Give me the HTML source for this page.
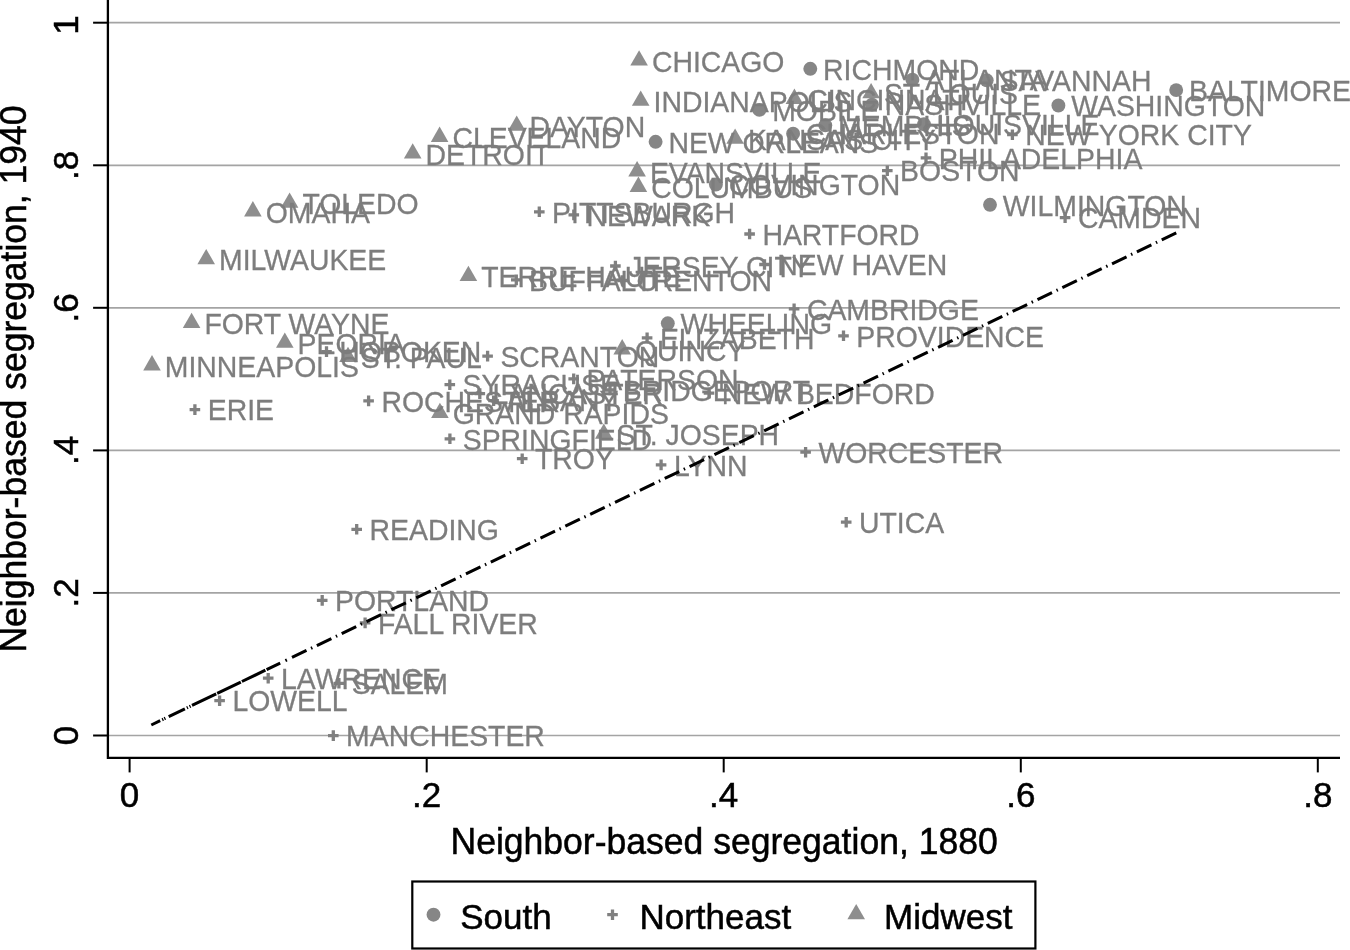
<!DOCTYPE html>
<html><head><meta charset="utf-8"><title>Neighbor-based segregation</title>
<style>
html,body{margin:0;padding:0;background:#fff;}
body{width:1350px;height:950px;overflow:hidden;}
svg{display:block;font-family:"Liberation Sans",Arial,Helvetica,sans-serif;}
.lab{font-size:28.4px;fill:#7d7d7d;stroke:#7d7d7d;stroke-width:0.28px;}
.ax{font-size:35.55px;fill:#000;stroke:#000;stroke-width:0.5px;}
.tk{font-size:35px;}
</style></head><body>
<svg width="1350" height="950" viewBox="0 0 1350 950">
<rect width="1350" height="950" fill="#fff"/>

<g stroke="#a4a4a4" stroke-width="1.7">
<line x1="107" x2="1340" y1="735.5" y2="735.5"/>
<line x1="107" x2="1340" y1="592.9" y2="592.9"/>
<line x1="107" x2="1340" y1="450.4" y2="450.4"/>
<line x1="107" x2="1340" y1="307.8" y2="307.8"/>
<line x1="107" x2="1340" y1="165.3" y2="165.3"/>
<line x1="107" x2="1340" y1="22.7" y2="22.7"/>
</g>
<g stroke="#000" stroke-width="2.3" fill="none">
<path d="M107.9 0V757.9H1340" stroke-linejoin="miter"/>
</g><g stroke="#000" stroke-width="2" fill="none">
<line x1="93.1" x2="107" y1="735.5" y2="735.5"/>
<line x1="93.1" x2="107" y1="592.9" y2="592.9"/>
<line x1="93.1" x2="107" y1="450.4" y2="450.4"/>
<line x1="93.1" x2="107" y1="307.8" y2="307.8"/>
<line x1="93.1" x2="107" y1="165.3" y2="165.3"/>
<line x1="93.1" x2="107" y1="22.7" y2="22.7"/>
<line x1="129.6" x2="129.6" y1="758" y2="772.4"/>
<line x1="426.7" x2="426.7" y1="758" y2="772.4"/>
<line x1="723.7" x2="723.7" y1="758" y2="772.4"/>
<line x1="1020.8" x2="1020.8" y1="758" y2="772.4"/>
<line x1="1317.8" x2="1317.8" y1="758" y2="772.4"/>
</g>
<g class="ax">
<text class="tk" transform="translate(129.6,807) scale(1,1.01)" text-anchor="middle">0</text>
<text class="tk" transform="translate(426.7,807) scale(1,1.01)" text-anchor="middle">.2</text>
<text class="tk" transform="translate(723.7,807) scale(1,1.01)" text-anchor="middle">.4</text>
<text class="tk" transform="translate(1020.8,807) scale(1,1.01)" text-anchor="middle">.6</text>
<text class="tk" transform="translate(1317.8,807) scale(1,1.01)" text-anchor="middle">.8</text>
<text transform="translate(78.3,735.5) rotate(-90) scale(1,1.01)" class="tk" text-anchor="middle">0</text>
<text transform="translate(78.3,592.9) rotate(-90) scale(1,1.01)" class="tk" text-anchor="middle">.2</text>
<text transform="translate(78.3,450.4) rotate(-90) scale(1,1.01)" class="tk" text-anchor="middle">.4</text>
<text transform="translate(78.3,307.8) rotate(-90) scale(1,1.01)" class="tk" text-anchor="middle">.6</text>
<text transform="translate(78.3,165.3) rotate(-90) scale(1,1.01)" class="tk" text-anchor="middle">.8</text>
<text transform="translate(78.3,24.9) rotate(-90) scale(1,1.01)" class="tk" text-anchor="middle">1</text>
<text transform="translate(724.1,853.6) scale(1,1.02)" text-anchor="middle">Neighbor-based segregation, 1880</text>
<text transform="translate(25.6,379) rotate(-90) scale(1,1.02)" text-anchor="middle">Neighbor-based segregation, 1940</text>
</g>
<g>
<polygon points="639.1,50.3 630.3,65.6 647.9,65.6" fill="#8e8e8e"/>
<polygon points="640.7,90.4 631.9,105.7 649.5,105.7" fill="#8e8e8e"/>
<polygon points="516.7,115.5 507.9,130.8 525.5,130.8" fill="#8e8e8e"/>
<polygon points="439.6,126.6 430.8,141.9 448.4,141.9" fill="#8e8e8e"/>
<polygon points="412.7,143.3 403.9,158.6 421.5,158.6" fill="#8e8e8e"/>
<polygon points="637.1,161.1 628.3,176.4 645.9,176.4" fill="#8e8e8e"/>
<polygon points="638.4,176.6 629.6,191.9 647.2,191.9" fill="#8e8e8e"/>
<polygon points="289.6,192.4 280.8,207.7 298.4,207.7" fill="#8e8e8e"/>
<polygon points="252.9,201.1 244.1,216.4 261.7,216.4" fill="#8e8e8e"/>
<polygon points="206.2,248.9 197.4,264.2 215.0,264.2" fill="#8e8e8e"/>
<polygon points="468.4,265.8 459.6,281.1 477.2,281.1" fill="#8e8e8e"/>
<polygon points="191.6,312.8 182.8,328.1 200.4,328.1" fill="#8e8e8e"/>
<polygon points="284.8,332.4 276.0,347.7 293.6,347.7" fill="#8e8e8e"/>
<polygon points="348.0,346.8 339.2,362.1 356.8,362.1" fill="#8e8e8e"/>
<polygon points="152.0,355.1 143.2,370.4 160.8,370.4" fill="#8e8e8e"/>
<polygon points="622.2,339.1 613.4,354.4 631.0,354.4" fill="#8e8e8e"/>
<polygon points="439.9,402.8 431.1,418.1 448.7,418.1" fill="#8e8e8e"/>
<polygon points="603.8,423.5 595.0,438.8 612.6,438.8" fill="#8e8e8e"/>
<polygon points="794.4,88.6 785.6,103.9 803.2,103.9" fill="#8e8e8e"/>
<polygon points="871.1,83.0 862.3,98.3 879.9,98.3" fill="#8e8e8e"/>
<polygon points="735.1,128.5 726.3,143.8 743.9,143.8" fill="#8e8e8e"/>
<circle cx="810.3" cy="68.8" r="6.95" fill="#868686"/>
<circle cx="912.4" cy="79.7" r="6.95" fill="#868686"/>
<circle cx="986.7" cy="80.3" r="6.95" fill="#868686"/>
<circle cx="1176.2" cy="90.1" r="6.95" fill="#868686"/>
<circle cx="1058.4" cy="105.5" r="6.95" fill="#868686"/>
<circle cx="872" cy="104.6" r="6.95" fill="#868686"/>
<circle cx="759.4" cy="109.9" r="6.95" fill="#868686"/>
<circle cx="825.3" cy="125.3" r="6.95" fill="#868686"/>
<circle cx="924" cy="124.3" r="6.95" fill="#868686"/>
<circle cx="793.1" cy="133.7" r="6.95" fill="#868686"/>
<circle cx="655.6" cy="141.8" r="6.95" fill="#868686"/>
<circle cx="715.9" cy="184.5" r="6.95" fill="#868686"/>
<circle cx="990" cy="204.8" r="6.95" fill="#868686"/>
<circle cx="667.8" cy="323.3" r="6.95" fill="#868686"/>
<path d="M1007.1 134.7H1017.7M1012.4 129.4V140.0" stroke="#808080" stroke-width="3.30" fill="none"/>
<path d="M920.7 157.9H931.3M926 152.6V163.2" stroke="#808080" stroke-width="3.30" fill="none"/>
<path d="M882.0 170.7H892.6M887.3 165.4V176.0" stroke="#808080" stroke-width="3.30" fill="none"/>
<path d="M534.0 211.8H544.6M539.3 206.5V217.1" stroke="#808080" stroke-width="3.30" fill="none"/>
<path d="M568.5 214.9H579.1M573.8 209.6V220.2" stroke="#808080" stroke-width="3.30" fill="none"/>
<path d="M1059.8 217.6H1070.4M1065.1 212.3V222.9" stroke="#808080" stroke-width="3.30" fill="none"/>
<path d="M744.3 234H754.9M749.6 228.7V239.3" stroke="#808080" stroke-width="3.30" fill="none"/>
<path d="M610.1 266.0H620.7M615.4 260.7V271.3" stroke="#808080" stroke-width="3.30" fill="none"/>
<path d="M759.2 264.5H769.8M764.5 259.2V269.8" stroke="#808080" stroke-width="3.30" fill="none"/>
<path d="M511.0 279.9H521.6M516.3 274.6V285.2" stroke="#808080" stroke-width="3.30" fill="none"/>
<path d="M617.2 280.5H627.8M622.5 275.2V285.8" stroke="#808080" stroke-width="3.30" fill="none"/>
<path d="M788.8 308.9H799.4M794.1 303.6V314.2" stroke="#808080" stroke-width="3.30" fill="none"/>
<path d="M838.2 335.8H848.8M843.5 330.5V341.1" stroke="#808080" stroke-width="3.30" fill="none"/>
<path d="M641.8 337.8H652.4M647.1 332.5V343.1" stroke="#808080" stroke-width="3.30" fill="none"/>
<path d="M321.2 351.6H331.8M326.5 346.3V356.9" stroke="#808080" stroke-width="3.30" fill="none"/>
<path d="M482.3 356.1H492.9M487.6 350.8V361.4" stroke="#808080" stroke-width="3.30" fill="none"/>
<path d="M568.4 378.9H579.0M573.7 373.6V384.2" stroke="#808080" stroke-width="3.30" fill="none"/>
<path d="M444.5 384.7H455.1M449.8 379.4V390.0" stroke="#808080" stroke-width="3.30" fill="none"/>
<path d="M604.7 390H615.3M610 384.7V395.3" stroke="#808080" stroke-width="3.30" fill="none"/>
<path d="M703.7 393.2H714.3M709 387.9V398.5" stroke="#808080" stroke-width="3.30" fill="none"/>
<path d="M363.3 400.9H373.9M368.6 395.6V406.2" stroke="#808080" stroke-width="3.30" fill="none"/>
<path d="M474.5 393.6H485.1M479.8 388.3V398.9" stroke="#808080" stroke-width="3.30" fill="none"/>
<path d="M488.3 400.7H498.9M493.6 395.4V406.0" stroke="#808080" stroke-width="3.30" fill="none"/>
<path d="M189.6 409.6H200.2M194.9 404.3V414.9" stroke="#808080" stroke-width="3.30" fill="none"/>
<path d="M444.6 438.8H455.2M449.9 433.5V444.1" stroke="#808080" stroke-width="3.30" fill="none"/>
<path d="M800.3 452.2H810.9M805.6 446.9V457.5" stroke="#808080" stroke-width="3.30" fill="none"/>
<path d="M516.9 458.7H527.5M522.2 453.4V464.0" stroke="#808080" stroke-width="3.30" fill="none"/>
<path d="M655.8 464.9H666.4M661.1 459.6V470.2" stroke="#808080" stroke-width="3.30" fill="none"/>
<path d="M840.9 522.2H851.5M846.2 516.9V527.5" stroke="#808080" stroke-width="3.30" fill="none"/>
<path d="M351.4 529.3H362.0M356.7 524.0V534.6" stroke="#808080" stroke-width="3.30" fill="none"/>
<path d="M316.9 600.4H327.5M322.2 595.1V605.7" stroke="#808080" stroke-width="3.30" fill="none"/>
<path d="M359.8 622.9H370.4M365.1 617.6V628.2" stroke="#808080" stroke-width="3.30" fill="none"/>
<path d="M262.9 678.2H273.5M268.2 672.9V683.5" stroke="#808080" stroke-width="3.30" fill="none"/>
<path d="M333.6 683.3H344.2M338.9 678.0V688.6" stroke="#808080" stroke-width="3.30" fill="none"/>
<path d="M214.3 700.7H224.9M219.6 695.4V706.0" stroke="#808080" stroke-width="3.30" fill="none"/>
<path d="M328.0 735.6H338.6M333.3 730.3V740.9" stroke="#808080" stroke-width="3.30" fill="none"/>
</g>
<g class="lab">
<text transform="translate(651.9,71.7) scale(1,1.04)">CHICAGO</text>
<text transform="translate(653.5,111.8) scale(1,1.04)">INDIANAPOLIS</text>
<text transform="translate(529.5,136.9) scale(1,1.04)">DAYTON</text>
<text transform="translate(452.4,148.0) scale(1,1.04)">CLEVELAND</text>
<text transform="translate(425.5,164.7) scale(1,1.04)">DETROIT</text>
<text transform="translate(649.9,182.5) scale(1,1.04)">EVANSVILLE</text>
<text transform="translate(651.2,198.0) scale(1,1.04)">COLUMBUS</text>
<text transform="translate(302.4,213.8) scale(1,1.04)">TOLEDO</text>
<text transform="translate(265.7,222.5) scale(1,1.04)">OMAHA</text>
<text transform="translate(219.0,270.3) scale(1,1.04)">MILWAUKEE</text>
<text transform="translate(481.2,287.2) scale(1,1.04)">TERRE HAUTE</text>
<text transform="translate(204.4,334.2) scale(1,1.04)">FORT WAYNE</text>
<text transform="translate(297.6,353.8) scale(1,1.04)">PEORIA</text>
<text transform="translate(360.8,368.2) scale(1,1.04)">ST. PAUL</text>
<text transform="translate(164.8,376.5) scale(1,1.04)">MINNEAPOLIS</text>
<text transform="translate(635.0,360.5) scale(1,1.04)">QUINCY</text>
<text transform="translate(452.7,424.2) scale(1,1.04)">GRAND RAPIDS</text>
<text transform="translate(616.6,444.9) scale(1,1.04)">ST. JOSEPH</text>
<text transform="translate(807.2,110.0) scale(1,1.04)">CINCINNATI</text>
<text transform="translate(883.9,104.4) scale(1,1.04)">ST. LOUIS</text>
<text transform="translate(747.9,149.9) scale(1,1.04)">KANSAS CITY</text>
<text transform="translate(823.1,79.5) scale(1,1.04)">RICHMOND</text>
<text transform="translate(925.2,90.4) scale(1,1.04)">ATLANTA</text>
<text transform="translate(999.5,91.0) scale(1,1.04)">SAVANNAH</text>
<text transform="translate(1189.0,100.8) scale(1,1.04)">BALTIMORE</text>
<text transform="translate(1071.2,116.2) scale(1,1.04)">WASHINGTON</text>
<text transform="translate(884.8,115.3) scale(1,1.04)">NASHVILLE</text>
<text transform="translate(772.2,120.6) scale(1,1.04)">MOBILE</text>
<text transform="translate(838.1,136.0) scale(1,1.04)">MEMPHIS</text>
<text transform="translate(936.8,135.0) scale(1,1.04)">LOUISVILLE</text>
<text transform="translate(805.9,144.4) scale(1,1.04)">CHARLESTON</text>
<text transform="translate(668.4,152.5) scale(1,1.04)">NEW ORLEANS</text>
<text transform="translate(728.7,195.2) scale(1,1.04)">COVINGTON</text>
<text transform="translate(1002.8,215.5) scale(1,1.04)">WILMINGTON</text>
<text transform="translate(680.6,334.0) scale(1,1.04)">WHEELING</text>
<text transform="translate(1025.2,145.4) scale(1,1.04)">NEW YORK CITY</text>
<text transform="translate(938.8,168.6) scale(1,1.04)">PHILADELPHIA</text>
<text transform="translate(900.1,181.4) scale(1,1.04)">BOSTON</text>
<text transform="translate(552.1,222.5) scale(1,1.04)">PITTSBURGH</text>
<text transform="translate(586.6,225.6) scale(1,1.04)">NEWARK</text>
<text transform="translate(1077.9,228.3) scale(1,1.04)">CAMDEN</text>
<text transform="translate(762.4,244.7) scale(1,1.04)">HARTFORD</text>
<text transform="translate(628.2,276.7) scale(1,1.04)">JERSEY CITY</text>
<text transform="translate(777.3,275.2) scale(1,1.04)">NEW HAVEN</text>
<text transform="translate(529.1,290.6) scale(1,1.04)">BUFFALO</text>
<text transform="translate(635.3,291.2) scale(1,1.04)">TRENTON</text>
<text transform="translate(806.9,319.6) scale(1,1.04)">CAMBRIDGE</text>
<text transform="translate(856.3,346.5) scale(1,1.04)">PROVIDENCE</text>
<text transform="translate(659.9,348.5) scale(1,1.04)">ELIZABETH</text>
<text transform="translate(339.3,362.3) scale(1,1.04)">HOBOKEN</text>
<text transform="translate(500.4,366.8) scale(1,1.04)">SCRANTON</text>
<text transform="translate(586.5,389.6) scale(1,1.04)">PATERSON</text>
<text transform="translate(462.6,395.4) scale(1,1.04)">SYRACUSE</text>
<text transform="translate(622.8,400.7) scale(1,1.04)">BRIDGEPORT</text>
<text transform="translate(721.8,403.9) scale(1,1.04)">NEW BEDFORD</text>
<text transform="translate(381.4,411.6) scale(1,1.04)">ROCHESTER</text>
<text transform="translate(492.6,404.3) scale(1,1.04)">LANCASTER</text>
<text transform="translate(506.4,411.4) scale(1,1.04)">ALBANY</text>
<text transform="translate(207.7,420.3) scale(1,1.04)">ERIE</text>
<text transform="translate(462.7,449.5) scale(1,1.04)">SPRINGFIELD</text>
<text transform="translate(818.4,462.9) scale(1,1.04)">WORCESTER</text>
<text transform="translate(535.0,469.4) scale(1,1.04)">TROY</text>
<text transform="translate(673.9,475.6) scale(1,1.04)">LYNN</text>
<text transform="translate(859.0,532.9) scale(1,1.04)">UTICA</text>
<text transform="translate(369.5,540.0) scale(1,1.04)">READING</text>
<text transform="translate(335.0,611.1) scale(1,1.04)">PORTLAND</text>
<text transform="translate(377.9,633.6) scale(1,1.04)">FALL RIVER</text>
<text transform="translate(281.0,688.9) scale(1,1.04)">LAWRENCE</text>
<text transform="translate(351.7,694.0) scale(1,1.04)">SALEM</text>
<text transform="translate(232.4,711.4) scale(1,1.04)">LOWELL</text>
<text transform="translate(346.1,746.3) scale(1,1.04)">MANCHESTER</text>
</g>
<path d="M151.3 725.00L160.2 720.72M162.2 719.76L163.3 719.23M164.3 718.75L165.4 718.23M168.7 716.64L184.9 708.86M186.8 707.95L187.9 707.42M189.5 706.66L190.6 706.13M192.0 705.46L216.2 693.84M217.2 693.36L240.8 682.03M241.9 681.50L265.4 670.22M266.6 669.64L280.2 663.11M285.4 660.61L286.9 659.89" stroke="#000" stroke-width="3.05" fill="none"/>
<path d="M292 657.45L1176.4 232.85" stroke="#000" stroke-width="3.05" fill="none" stroke-dasharray="16.1 5.0 1.45 5.015"/>
<rect x="412.3" y="881.5" width="623.1" height="67" fill="#fff" stroke="#000" stroke-width="2.2"/>
<circle cx="433.5" cy="914.7" r="6.95" fill="#868686"/>
<path d="M607.2 914.7H617.8M612.5 909.4V920.0" stroke="#808080" stroke-width="3.30" fill="none"/>
<polygon points="856.2,903.9 847.4,919.2 865.0,919.2" fill="#8e8e8e"/>
<g class="ax"><text class="tk" transform="translate(460.2,928.6) scale(1,1.025)">South</text><text class="tk" transform="translate(639.4,928.6) scale(1,1.025)">Northeast</text><text class="tk" transform="translate(884.1,928.6) scale(1,1.025)">Midwest</text></g>
</svg></body></html>
